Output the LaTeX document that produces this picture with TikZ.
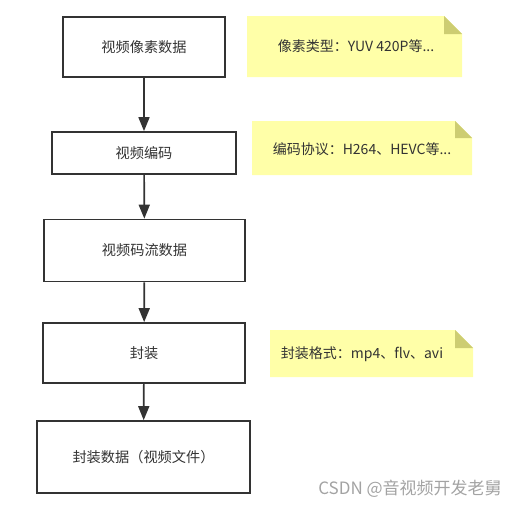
\documentclass[tikz,border=0pt]{standalone}
\usepackage{fontspec}
\setmainfont{Noto Sans CJK SC}
\usepackage{xcolor}
\usepackage{tikz}
\usetikzlibrary{calc,arrows.meta}
\definecolor{ink}{HTML}{333333}
\definecolor{note}{HTML}{FFFFA8}
\definecolor{fold}{HTML}{CDCD72}
\definecolor{wmark}{HTML}{A3A3A3}
\tikzset{
  box/.style={draw=ink, line width=1.7pt, fill=white, text=ink, font=\fontsize{14.2}{16}\selectfont},
  flow/.style={draw=ink, line width=1.7pt, -{Triangle[width=11pt,length=14pt]}},
  memo/.style={text=ink, font=\fontsize{14}{16}\selectfont},
  notefill/.style={fill=note},
  foldfill/.style={fill=fold},
  wm/.style={text=wmark, font=\fontsize{17}{19}\selectfont}
}
\begin{document}
\begin{tikzpicture}[x=1pt, y=-1pt]
  \useasboundingbox (0,0) rectangle (532,509);

  % flow boxes
  \node[box, minimum width=162, minimum height=60] (pix) at (144,47) {视频像素数据};
  \node[box, minimum width=184, minimum height=42] (enc) at (144,153) {视频编码};
  \node[box, minimum width=201, minimum height=62] (bits) at (144.5,250.5) {视频码流数据};
  \node[box, minimum width=202, minimum height=60] (pack) at (144,353) {封装};
  \node[box, minimum width=213, minimum height=72] (file) at (143.5,457) {封装数据（视频文件）};

  \draw[flow] (pix) -- (enc);
  \draw[flow] (enc) -- (bits);
  \draw[flow] (bits) -- (pack);
  \draw[flow] (pack) -- (file);

  % notes
  \fill[notefill] (247,16) -- (444,16) -- (462,34) -- (462,77) -- (247,77) -- cycle;
  \fill[foldfill] (444,16) -- (444,34) -- (462,34) -- cycle;
  \node[memo] (pixnote) at (356,46) {像素类型：YUV 420P等...};

  \fill[notefill] (252,121) -- (455,121) -- (472,138) -- (472,175) -- (252,175) -- cycle;
  \fill[foldfill] (455,121) -- (455,138) -- (472,138) -- cycle;
  \node[memo] (encnote) at (362,149) {编码协议：H264、HEVC等...};

  \fill[notefill] (270,330) -- (455,330) -- (473,348) -- (473,377) -- (270,377) -- cycle;
  \fill[foldfill] (455,330) -- (455,348) -- (473,348) -- cycle;
  \node[memo] (packnote) at (362,354) {封装格式：mp4、flv、avi};

  \node[wm] (csdn) at (410,489) {CSDN @音视频开发老舅};
\end{tikzpicture}
\end{document}
